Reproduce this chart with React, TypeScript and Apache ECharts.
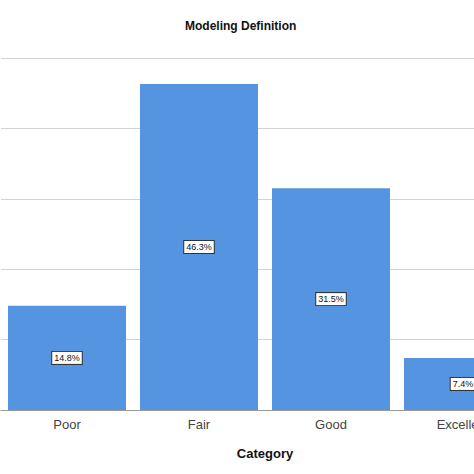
import * as echarts from 'echarts'
import React, { useEffect, useRef } from 'react'

const categories = ['Poor', 'Fair', 'Good', 'Excellent']
const percents = [14.8, 46.3, 31.5, 7.4]
const yTicks = [0, 10, 20, 30, 40, 50]

const barColor = '#5594e1'
const font = 'Arial, "Liberation Sans", sans-serif'

export default function App() {
  const chartRef = useRef<HTMLDivElement>(null)

  useEffect(() => {
    // the plot runs past the right edge of the window, as in the reference crop
    const chart = echarts.init(chartRef.current, null, { renderer: 'svg' })

    const option = {
      animation: false,
      backgroundColor: '#ffffff',
      title: {
        text: 'Modeling Definition',
        left: 180,
        top: 15,
        textStyle: {
          fontFamily: font,
          fontSize: 12,
          fontWeight: 'bold',
          color: '#111',
        },
      },
      grid: {
        left: 1,
        right: 2,
        top: 58,
        bottom: 64,
        containLabel: false,
      },
      xAxis: {
        type: 'category',
        data: categories,
        name: 'Category',
        nameLocation: 'middle',
        nameGap: 37,
        nameTextStyle: {
          fontFamily: font,
          fontSize: 13,
          fontWeight: 'bold',
          color: '#111',
        },
        axisLine: { lineStyle: { color: '#9a9a9a', width: 1 } },
        axisTick: { show: false },
        axisLabel: {
          fontFamily: font,
          fontSize: 13,
          color: '#444',
          margin: 8,
        },
      },
      yAxis: {
        type: 'value',
        min: yTicks[0],
        max: yTicks[yTicks.length - 1],
        interval: 10,
        axisLabel: { show: false },
        axisLine: { show: false },
        axisTick: { show: false },
        splitLine: { lineStyle: { color: '#d2d2d2', width: 1 } },
      },
      series: [
        {
          type: 'bar',
          data: percents,
          barWidth: 118,
          itemStyle: { color: barColor },
          label: {
            show: true,
            position: 'inside',
            formatter: '{c}%',
            fontFamily: font,
            fontSize: 9,
            color: '#111',
            backgroundColor: '#ffffff',
            borderColor: '#333',
            borderWidth: 1,
            padding: [2, 2, 1, 2],
          },
        },
      ],
    }

    chart.setOption(option)

    return () => {
      chart.dispose()
    }
  }, [])

  return (
    <div
      style={{
        position: 'fixed',
        left: 0,
        top: 0,
        width: '474px',
        height: '474px',
        overflow: 'hidden',
        background: '#fff',
      }}
    >
      <div ref={chartRef} style={{ width: '531px', height: '474px' }} />
    </div>
  )
}
